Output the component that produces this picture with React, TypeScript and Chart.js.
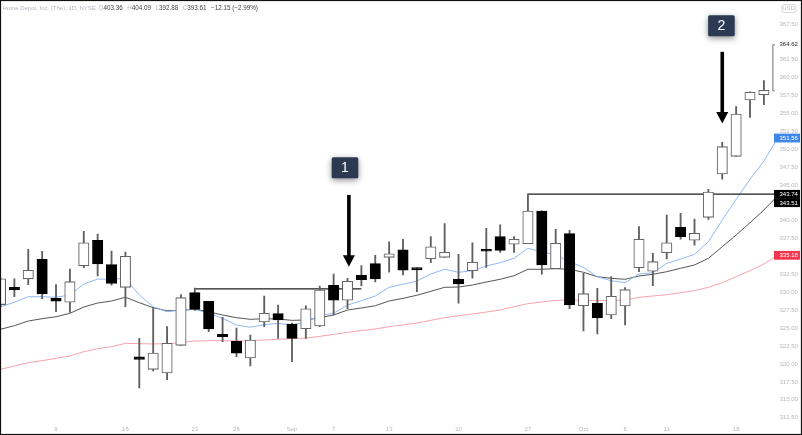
import { useRef, useEffect } from "react"
import { Chart, registerables } from "chart.js"

Chart.register(...registerables)

// daily bars, one entry per trading day
const opens = [328.3, 330.7, 331.9, 334.62, 329.18, 328.62, 333.73, 337.28, 333.87, 330.71, 321.0, 319.26, 318.74, 322.61, 329.96, 328.76, 324.15, 323.17, 320.84, 325.87, 327.03, 325.59, 324.93, 325.31, 330.99, 328.9, 332.39, 334.01, 334.9, 335.96, 333.45, 334.71, 334.9, 331.83, 333.03, 336.0, 337.78, 336.72, 336.8, 341.37, 333.31, 338.2, 328.14, 328.48, 326.84, 328.1, 333.45, 332.95, 335.54, 339.09, 337.28, 340.49, 346.54, 349.0, 356.87, 357.61, 358.1]
const closes = [331.91, 330.35, 333.09, 329.78, 328.76, 331.5, 336.94, 333.97, 331.27, 335.04, 320.65, 321.54, 322.89, 329.26, 327.64, 324.89, 323.81, 321.5, 323.35, 327.08, 326.14, 323.59, 327.72, 330.33, 328.9, 331.55, 331.77, 331.87, 335.4, 333.09, 333.15, 336.38, 335.6, 331.17, 334.2, 335.75, 335.88, 337.42, 341.37, 333.83, 336.86, 328.24, 329.82, 326.42, 329.46, 330.38, 337.42, 334.29, 336.94, 337.78, 338.25, 344.02, 350.35, 354.92, 357.95, 358.23, 364.62]
const highs = [332.0, 331.9, 336.02, 335.74, 331.08, 333.27, 338.53, 338.16, 335.78, 335.64, 323.59, 327.86, 325.21, 329.68, 330.6, 328.76, 326.52, 325.03, 324.05, 329.5, 328.24, 325.7, 328.14, 330.9, 332.57, 331.97, 333.73, 335.18, 337.08, 337.42, 333.43, 337.78, 339.6, 335.32, 336.94, 338.95, 339.45, 337.78, 343.78, 341.4, 338.81, 338.67, 332.67, 330.57, 332.2, 330.66, 339.18, 335.46, 340.81, 341.05, 340.25, 344.4, 350.96, 355.94, 358.03, 359.57, 364.62]
const lows = [328.0, 329.4, 331.08, 329.12, 327.3, 327.22, 333.45, 332.29, 331.0, 328.0, 316.65, 319.02, 317.81, 322.61, 327.5, 324.5, 323.11, 321.02, 319.72, 325.21, 323.59, 320.32, 323.59, 325.21, 326.84, 327.72, 330.89, 331.45, 332.81, 332.43, 330.1, 334.15, 334.9, 328.48, 332.0, 333.5, 335.6, 335.6, 336.8, 332.53, 333.31, 327.72, 324.61, 324.19, 326.33, 325.45, 332.89, 330.94, 334.66, 337.42, 336.58, 340.21, 345.8, 349.0, 354.45, 356.21, 358.1]

const ema8 = [328.0, 328.62, 329.4, 329.4, 329.32, 329.64, 331.17, 331.87, 331.83, 331.97, 329.64, 328.0, 327.3, 327.54, 327.64, 327.08, 326.38, 325.45, 325.13, 325.49, 325.68, 325.45, 325.9, 326.75, 327.08, 328.24, 328.84, 329.5, 330.71, 331.13, 331.59, 332.57, 333.23, 332.81, 333.03, 333.69, 334.15, 334.76, 336.16, 335.68, 335.22, 334.29, 333.5, 332.19, 331.63, 331.36, 332.57, 332.75, 334.06, 334.66, 335.32, 337.08, 340.11, 343.0, 345.8, 348.35, 351.56]
const ema21 = [324.85, 325.35, 326.0, 326.33, 326.6, 327.08, 327.96, 328.52, 328.8, 329.32, 328.56, 327.86, 327.44, 327.5, 327.64, 327.3, 326.84, 326.47, 326.24, 326.33, 326.28, 326.1, 326.14, 326.47, 326.84, 327.54, 327.82, 328.14, 328.8, 329.17, 329.6, 330.15, 330.71, 330.75, 331.03, 331.45, 331.83, 332.33, 333.23, 333.23, 333.31, 333.23, 332.81, 332.19, 331.97, 331.83, 332.29, 332.53, 332.89, 333.37, 333.83, 334.76, 336.38, 338.02, 339.73, 341.51, 343.51]
const sma50 = [319.25, 319.72, 320.19, 320.47, 320.79, 321.12, 321.72, 322.14, 322.42, 322.89, 322.84, 322.8, 322.84, 322.98, 323.21, 323.26, 323.26, 323.21, 323.26, 323.35, 323.45, 323.54, 323.63, 323.86, 324.14, 324.42, 324.66, 324.89, 325.21, 325.45, 325.73, 326.1, 326.47, 326.75, 326.98, 327.26, 327.54, 328.01, 328.43, 328.66, 328.89, 328.94, 328.89, 328.85, 328.85, 328.94, 329.31, 329.5, 329.68, 329.96, 330.24, 330.71, 331.36, 332.2, 333.04, 333.97, 335.18]

// date labels and the bar each one sits under
const dateLabels = ["9", "16", "23", "26", "Sep", "7", "13", "20", "27", "Oct", "6", "11", "18"]
const dateBars = [4, 9, 14, 17, 21, 24, 28, 33, 38, 42, 45, 48, 53]

// drawn levels: [first bar, last bar, price]
const levelBars = [[14, 26], [38, 56]]
const levelPrices = [330.5, 343.74]

// price labels the axis leaves out because a value tag or the USD badge sits there
const hiddenTicks = [370, 365, 342.5, 335]

const titleName = "Home Depot, Inc. (The), 1D, NYSE"
const titleValues = [
    ["O", "403.36"],
    ["H", "404.09"],
    ["L", "392.88"],
    ["C", "393.61"],
]
const titleChange = "\u221212.15 (\u22122.99%)"

const calloutNames = ["1", "2"]
const calloutBars = [24.82, 51.94]
const calloutPrices = [347.4, 367.25]
const arrowBars = [25.1, 52]
const arrowFrom = [343.6, 363.6]
const arrowTo = [333.6, 353.6]

const FONT = '"Liberation Sans", Arial, sans-serif'

const chartDecorations = {
    id: "chartDecorations",
    afterDraw(chart: Chart) {
        const { ctx, chartArea } = chart
        const x = chart.scales.x
        const y = chart.scales.y

        ctx.save()

        // legend line
        ctx.textBaseline = "middle"
        ctx.textAlign = "left"
        ctx.font = `6px ${FONT}`
        ctx.fillStyle = "#b4b7bf"
        ctx.fillText(titleName, 2.5, 8.5)
        ctx.font = `6.3px ${FONT}`
        let cursor = 98.5
        titleValues.forEach(([letter, val]) => {
            ctx.fillStyle = "#b4b7bf"
            ctx.fillText(letter, cursor, 8.5)
            cursor += ctx.measureText(letter).width
            ctx.fillStyle = "#444"
            ctx.fillText(val, cursor, 8.5)
            cursor += ctx.measureText(val).width + 4.5
        })
        ctx.fillText(titleChange, cursor, 8.5)

        // USD badge
        ctx.fillStyle = "#b4b7bf"
        ctx.font = `6px ${FONT}`
        ctx.textAlign = "center"
        ctx.fillText("USD", 788.5, 8.5)
        ctx.strokeStyle = "#c8cad0"
        ctx.lineWidth = 0.7
        ctx.beginPath()
        ctx.roundRect(782, 4.5, 14, 8, 2)
        ctx.stroke()

        // value tags on the price axis
        const tag = (price: number, nudge: number, bg: string | null, fg: string) => {
            const py = y.getPixelForValue(price) + nudge
            if (bg) {
                ctx.fillStyle = bg
                ctx.fillRect(chartArea.right - 1, py - 4.4, 26, 8.8)
            }
            ctx.fillStyle = fg
            ctx.font = `6px ${FONT}`
            ctx.textAlign = "left"
            ctx.fillText(price.toFixed(2), chartArea.right + 4.5, py + 0.3)
        }
        tag(closes[closes.length - 1], 0, null, "#222")
        tag(ema8[ema8.length - 1], 0, "#3f86ea", "#fff")
        tag(sma50[sma50.length - 1], 0, "#f5364f", "#fff")
        tag(levelPrices[1], 0.3, "#000", "#fff")
        tag(ema21[ema21.length - 1], 7, "#000", "#fff")

        // arrows
        arrowBars.forEach((bar, i) => {
            const ax = x.getPixelForValue(bar)
            const top = y.getPixelForValue(arrowFrom[i])
            const tip = y.getPixelForValue(arrowTo[i])
            ctx.fillStyle = "#000"
            ctx.fillRect(ax - 1.8, top, 3.6, tip - top - 10)
            ctx.beginPath()
            ctx.moveTo(ax - 6, tip - 11.5)
            ctx.lineTo(ax + 6, tip - 11.5)
            ctx.lineTo(ax, tip)
            ctx.closePath()
            ctx.fill()
        })

        // numbered callouts
        calloutNames.forEach((name, i) => {
            const cx = x.getPixelForValue(calloutBars[i])
            const cy = y.getPixelForValue(calloutPrices[i])
            ctx.save()
            ctx.shadowColor = "rgba(0,0,0,0.45)"
            ctx.shadowBlur = 6
            ctx.shadowOffsetY = 2
            ctx.fillStyle = "#2b3a52"
            ctx.beginPath()
            ctx.roundRect(cx - 13.3, cy - 10.5, 26.6, 21, 1.5)
            ctx.fill()
            ctx.restore()
            ctx.fillStyle = "#fff"
            ctx.font = `14px ${FONT}`
            ctx.textAlign = "center"
            ctx.fillText(name, cx, cy + 0.5)
        })

        // image frame
        ctx.strokeStyle = "#111"
        ctx.lineWidth = 1.2
        ctx.strokeRect(0.5, 0.5, 801, 434)

        ctx.restore()
    },
}

export default function App() {
    const chartRef = useRef<HTMLCanvasElement | null>(null)

    useEffect(() => {
        if (!chartRef.current) return

        const bars = opens.map((_, i) => i)
        const isUp = (i: number) => closes[i] >= opens[i]

        const lineSet = (label: string, values: number[], color: string) => ({
            type: "line" as const,
            label,
            data: bars.map((i) => ({ x: i, y: values[i] })),
            borderColor: color,
            borderWidth: 1,
            pointRadius: 0,
            tension: 0,
            order: 5,
        })

        const chart = new Chart(chartRef.current, {
            type: "bar",
            data: {
                datasets: [
                    {
                        type: "bar",
                        label: "Body",
                        data: bars.map((i) => ({ x: i, y: [opens[i], closes[i]] })),
                        backgroundColor: bars.map((i) => (isUp(i) ? "#ffffff" : "#000000")),
                        borderColor: bars.map((i) => (isUp(i) ? "#666666" : "#000000")),
                        borderWidth: 1.1,
                        borderSkipped: false,
                        barThickness: 10.4,
                        grouped: false,
                        order: 1,
                    },
                    {
                        type: "bar",
                        label: "Wick",
                        data: bars.map((i) => ({ x: i, y: [lows[i], highs[i]] })),
                        backgroundColor: "#606060",
                        borderWidth: 0,
                        barThickness: 1.2,
                        grouped: false,
                        order: 2,
                    },
                    lineSet("EMA 8", ema8, "#8fb9f2"),
                    lineSet("EMA 21", ema21, "#555555"),
                    lineSet("SMA 50", sma50, "#f7a3aa"),
                    ...levelBars.map((span, i) => ({
                        type: "line" as const,
                        label: `Level ${i + 1}`,
                        data: span.map((bar) => ({ x: bar, y: levelPrices[i] })),
                        borderColor: "#1c1c1c",
                        borderWidth: 1.3,
                        pointRadius: 0,
                        order: 4,
                    })),
                ],
            },
            options: {
                responsive: false,
                animation: false,
                layout: { padding: { left: 0.5, top: 2, right: 0, bottom: 0 } },
                plugins: { legend: { display: false }, tooltip: { enabled: false } },
                scales: {
                    x: {
                        type: "linear",
                        offset: false,
                        min: 0,
                        max: 55.8,
                        grid: { display: false, drawTicks: false },
                        border: { display: false },
                        afterFit: (axis) => {
                            axis.height = 13
                            axis.paddingLeft = 0
                            axis.paddingRight = 0
                        },
                        afterBuildTicks: (axis) => {
                            axis.ticks = dateBars.map((value) => ({ value }))
                        },
                        ticks: {
                            autoSkip: false,
                            maxRotation: 0,
                            padding: 4,
                            color: "#b4b7bf",
                            font: { family: FONT, size: 6 },
                            callback: (value) => dateLabels[dateBars.indexOf(value as number)] ?? "",
                        },
                    },
                    y: {
                        type: "linear",
                        position: "right",
                        min: 311.9,
                        max: 370.56,
                        grid: { display: false, drawTicks: false },
                        border: { display: false },
                        afterFit: (axis) => {
                            axis.width = 27
                            axis.paddingTop = 0
                            axis.paddingBottom = 0
                        },
                        ticks: {
                            stepSize: 2.5,
                            includeBounds: false,
                            autoSkip: false,
                            padding: 4.5,
                            color: "#b4b7bf",
                            font: { family: FONT, size: 6 },
                            callback: (value) =>
                                hiddenTicks.includes(value as number) ? "" : (value as number).toFixed(2),
                        },
                    },
                },
            },
            plugins: [chartDecorations],
        })

        return () => {
            chart.destroy()
        }
    }, [])

    return (
        <div style={{ position: "fixed", left: 0, top: 0, width: 802, height: 435, background: "#fff" }}>
            <canvas ref={chartRef} width={802} height={435} style={{ display: "block" }} />
        </div>
    )
}
